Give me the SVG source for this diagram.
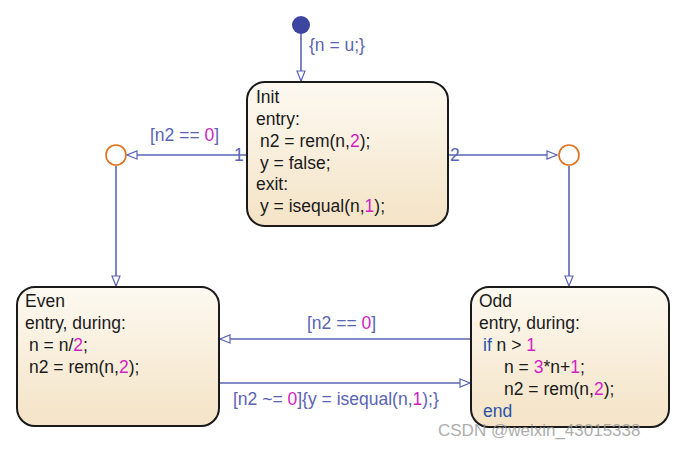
<svg xmlns="http://www.w3.org/2000/svg" width="685" height="449" viewBox="0 0 685 449">
<defs>
<linearGradient id="g" x1="0" y1="0" x2="0" y2="1"><stop offset="0" stop-color="#fdf9f1"/><stop offset="1" stop-color="#f4e3c6"/></linearGradient>
<marker id="ar" markerWidth="12" markerHeight="10" refX="11" refY="5" orient="auto" markerUnits="userSpaceOnUse"><path d="M1,1 L11,5 L1,9 Z" fill="#fff" stroke="#5a64b4" stroke-width="1.2"/></marker>
<style>
.st{fill:url(#g);stroke:#1a1a1a;stroke-width:2}
.t{font-family:"Liberation Sans",Arial,sans-serif;font-size:17.5px;fill:#1a1a1a}
.l{font-family:"Liberation Sans",Arial,sans-serif;font-size:17.5px;fill:#5a64b4}
.m{fill:#d21fc4}
.k{fill:#2a54a8}
.c{fill:none;stroke:#5a64b4;stroke-width:1.6}
.j{fill:#fff;stroke:#e0701c;stroke-width:1.6}
</style>
</defs>
<g id="connectors">
<path class="c" d="M301,34 V81" marker-end="url(#ar)"/>
<path class="c" d="M247,155 H127" marker-end="url(#ar)"/>
<path class="c" d="M116,166 V286" marker-end="url(#ar)"/>
<path class="c" d="M448,155 H557" marker-end="url(#ar)"/>
<path class="c" d="M569,166 V286" marker-end="url(#ar)"/>
<path class="c" d="M471,339 H220" marker-end="url(#ar)"/>
<path class="c" d="M219,383 H470" marker-end="url(#ar)"/>
<text class="l" x="309" y="51">{n = u;}</text>
<text class="l" x="150" y="141">[n2 == <tspan class="m">0</tspan>]</text>
<text class="l" x="234" y="161">1</text>
<text class="l" x="450" y="161">2</text>
<text class="l" x="307" y="329">[n2 == <tspan class="m">0</tspan>]</text>
<text class="l" x="233" y="405">[n2 ~= <tspan class="m">0</tspan>]{y = isequal(n,<tspan class="m">1</tspan>);}</text>
</g>
<g id="start"><circle cx="301" cy="25" r="9" fill="#3c46a0"/></g>
<g id="j1"><circle class="j" cx="116" cy="155" r="10"/></g>
<g id="j2"><circle class="j" cx="569" cy="155" r="10"/></g>
<g id="Init">
<rect class="st" x="247" y="82" width="201" height="144" rx="18"/>
<text class="t" x="256" y="103">Init</text>
<text class="t" x="256" y="125">entry:</text>
<text class="t" x="260" y="147">n2 = rem(n,<tspan class="m">2</tspan>);</text>
<text class="t" x="260" y="169">y = false;</text>
<text class="t" x="256" y="190">exit:</text>
<text class="t" x="260" y="212">y = isequal(n,<tspan class="m">1</tspan>);</text>
</g>
<g id="Even">
<rect class="st" x="17" y="287" width="202" height="139" rx="18"/>
<text class="t" x="25" y="307">Even</text>
<text class="t" x="25" y="329">entry, during:</text>
<text class="t" x="29" y="351">n = n/<tspan class="m">2</tspan>;</text>
<text class="t" x="29" y="373">n2 = rem(n,<tspan class="m">2</tspan>);</text>
</g>
<g id="Odd">
<rect class="st" x="471" y="287" width="198" height="140" rx="18"/>
<text class="t" x="479" y="307">Odd</text>
<text class="t" x="479" y="329">entry, during:</text>
<text class="t" x="483" y="351"><tspan class="k">if</tspan> n &gt; <tspan class="m">1</tspan></text>
<text class="t" x="504" y="373">n = <tspan class="m">3</tspan>*n+<tspan class="m">1</tspan>;</text>
<text class="t" x="504" y="395">n2 = rem(n,<tspan class="m">2</tspan>);</text>
<text class="t k" x="483" y="417">end</text>
</g>
<text x="438" y="436" style="font-family:'Liberation Sans',Arial,sans-serif;font-size:17px;fill:#9a9a9a;opacity:0.8">CSDN @weixin_43015338</text>
</svg>
